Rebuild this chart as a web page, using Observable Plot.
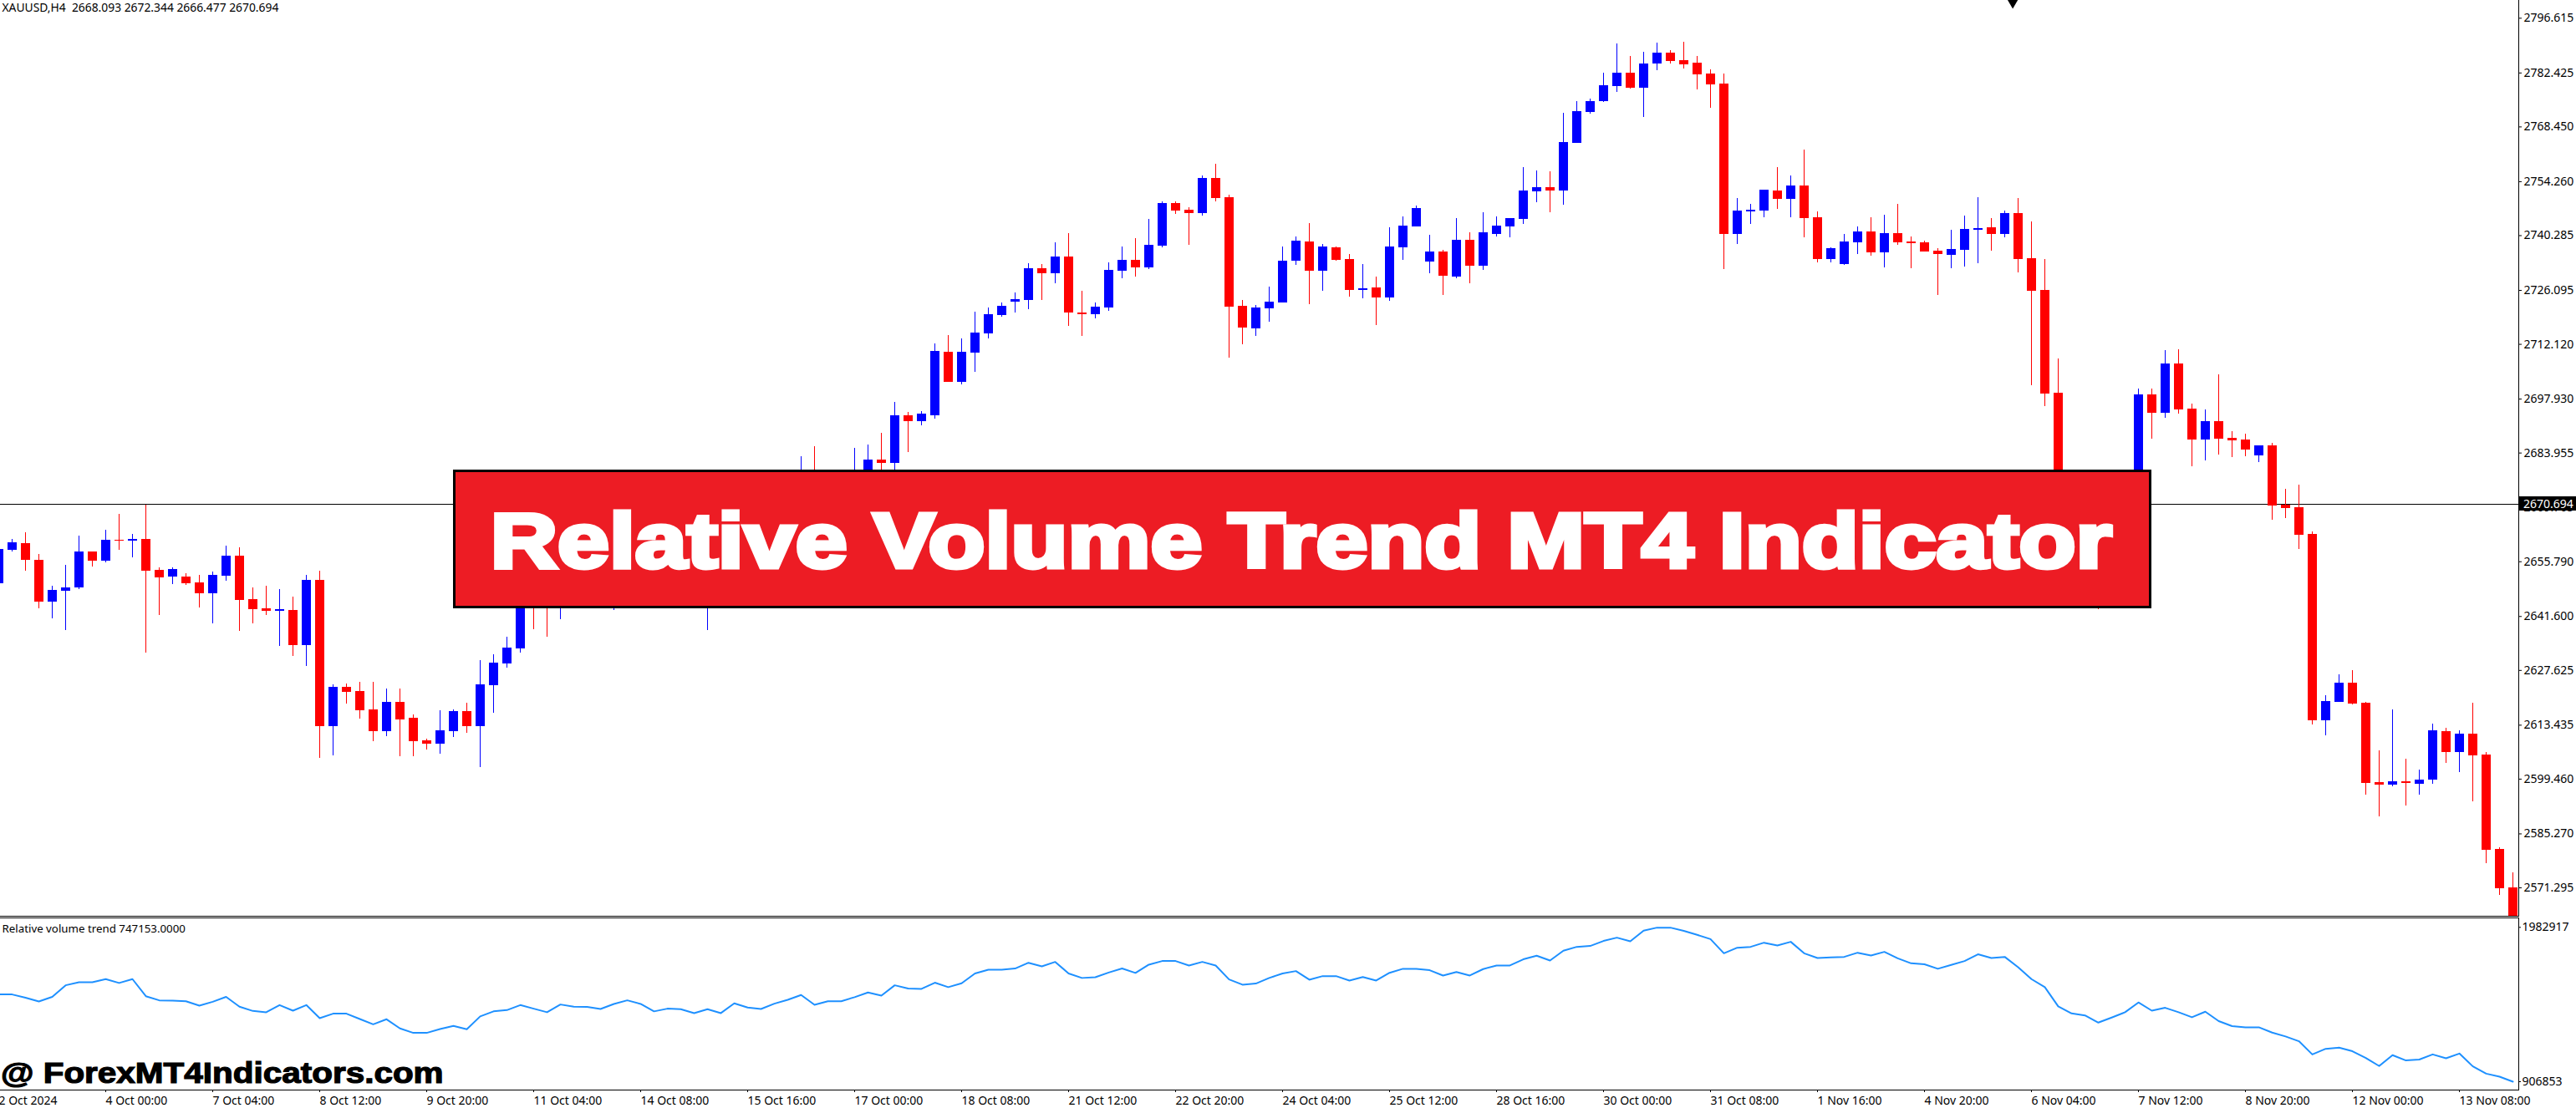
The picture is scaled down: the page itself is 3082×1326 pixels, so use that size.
<!DOCTYPE html>
<html><head><meta charset="utf-8">
<script src="https://cdn.jsdelivr.net/npm/d3@7"></script>
<script src="https://cdn.jsdelivr.net/npm/@observablehq/plot@0.6"></script>
<style>
html,body{margin:0;padding:0;background:#fff;overflow:hidden}
#wrap{position:relative;width:3082px;height:1326px;overflow:hidden;font-family:"Noto Sans",sans-serif}
#wrap svg{display:block}
#banner{position:absolute;left:542px;top:562px;width:2026px;height:160px;border:3px solid #000;background:#ED1C24;color:#fff;text-align:center}
#banner span{display:inline-block;font:bold 92px "Liberation Sans",Arial,sans-serif;-webkit-text-stroke:5px #fff;line-height:164px;white-space:pre;transform:translateX(-1px) scaleX(1.21);transform-origin:center}
#mark{position:absolute;left:1px;top:1264px;font:bold 35px/40px "Liberation Sans",Arial,sans-serif;color:#000;-webkit-text-stroke:1.2px #000;white-space:pre;transform:scaleX(1.156);transform-origin:left center}
#last{position:absolute;left:3014px;width:68px;height:17px;background:#000;color:#fff;font-size:14px;line-height:17px;padding-left:5px;box-sizing:border-box}
</style></head><body><div id="wrap"></div>
<script>
const opens=[2650.2,2658.8,2660.5,2656.2,2645.4,2648.2,2649.0,2658.3,2656.0,2661.4,
2661.2,2661.6,2653.6,2651.9,2651.9,2650.3,2647.5,2652.1,2657.3,2646.0,
2643.6,2643.0,2643.2,2634.1,2651.0,2613.1,2623.3,2622.2,2617.4,2611.8,
2619.4,2615.3,2609.4,2608.6,2611.8,2617.0,2613.1,2623.7,2629.3,2633.2,
2649.7,2646.4,2644.3,2651.8,2656.2,2654.0,2655.1,2660.5,2658.3,2662.7,
2659.4,2661.6,2657.2,2651.8,2658.3,2655.1,2660.5,2662.7,2659.4,2663.8,
2667.0,2671.3,2669.2,2672.4,2670.2,2674.6,2682.2,2681.3,2693.6,2692.1,
2693.6,2710.1,2702.3,2709.9,2714.9,2719.6,2723.1,2723.5,2731.7,2730.4,
2734.8,2720.3,2719.8,2721.6,2731.1,2733.9,2732.0,2737.6,2748.6,2746.9,
2746.0,2755.1,2750.1,2722.0,2716.1,2721.3,2722.9,2733.7,2738.7,2731.1,
2737.1,2734.1,2726.1,2726.7,2724.1,2737.1,2742.5,2733.4,2736.0,2729.5,
2739.1,2732.3,2740.6,2742.5,2744.5,2751.6,2752.7,2751.8,2764.2,2772.2,
2775.0,2778.9,2782.4,2778.5,2784.7,2787.6,2785.6,2785.0,2782.2,2779.6,
2740.6,2746.4,2746.6,2751.8,2749.7,2753.1,2744.9,2734.1,2732.8,2738.4,
2741.2,2735.8,2740.8,2738.6,2738.4,2736.2,2735.2,2736.5,2741.7,2742.3,
2740.6,2746.0,2734.3,2726.1,2699.4,2651.8,2648.6,2650.7,2647.5,2654.0,
2660.5,2699.0,2694.2,2707.0,2695.3,2687.3,2692.1,2687.8,2687.3,2683.2,
2685.8,2670.4,2669.8,2662.9,2614.6,2619.4,2624.4,2619.2,2598.6,2598.0,
2598.8,2598.2,2599.2,2611.8,2606.4,2611.1,2605.7,2581.3,2571.3];
const closes=[2659.0,2660.7,2656.2,2645.4,2648.4,2649.0,2658.3,2656.0,2661.4,2661.2,
2661.6,2653.4,2651.6,2653.8,2650.1,2647.5,2652.3,2657.3,2645.8,2643.4,
2643.0,2643.4,2634.1,2651.0,2613.1,2623.3,2622.0,2617.2,2611.8,2619.4,
2614.8,2609.2,2608.6,2612.0,2617.0,2613.1,2623.9,2629.6,2633.5,2649.7,
2646.4,2644.3,2651.8,2656.2,2654.0,2660.5,2660.5,2658.3,2662.7,2659.4,
2661.6,2657.2,2651.8,2658.3,2655.1,2660.5,2662.7,2659.4,2663.8,2667.0,
2671.3,2669.2,2672.4,2670.2,2674.6,2682.2,2681.3,2693.6,2692.1,2694.1,
2710.3,2702.3,2710.1,2715.1,2719.8,2722.0,2723.7,2731.7,2730.4,2734.8,
2720.3,2719.8,2721.8,2731.3,2733.9,2732.0,2737.8,2748.6,2746.7,2746.0,
2755.1,2749.9,2721.8,2716.4,2721.6,2723.1,2733.7,2738.9,2731.1,2737.4,
2733.9,2726.1,2726.5,2724.1,2737.3,2742.7,2747.3,2736.0,2729.8,2739.1,
2732.3,2741.0,2742.7,2744.7,2751.8,2752.7,2751.8,2764.4,2772.4,2775.0,
2779.1,2782.4,2778.5,2784.7,2787.6,2785.4,2784.5,2781.9,2779.3,2740.6,
2746.6,2746.9,2752.1,2749.7,2753.1,2744.7,2734.1,2736.9,2738.6,2741.2,
2735.8,2740.8,2738.4,2738.2,2736.0,2735.4,2736.7,2741.9,2742.1,2740.6,
2746.0,2734.1,2725.9,2699.2,2651.8,2648.6,2650.7,2647.5,2654.0,2660.5,
2699.0,2694.2,2707.0,2695.1,2687.3,2692.1,2687.5,2687.1,2684.7,2685.8,
2670.2,2669.6,2662.6,2614.6,2619.6,2624.4,2619.0,2598.4,2598.0,2598.8,
2598.4,2599.2,2612.0,2606.4,2611.1,2605.5,2581.1,2571.1,2560.0];
const highs=[2659.5,2661.6,2663.3,2657.7,2649.5,2654.9,2662.5,2658.3,2664.0,2668.1,
2662.9,2670.5,2654.2,2654.2,2652.7,2652.3,2653.2,2659.9,2659.4,2649.0,
2649.5,2648.6,2646.7,2652.3,2653.4,2623.9,2624.1,2624.6,2624.6,2622.8,
2622.8,2616.1,2609.9,2617.2,2617.4,2619.2,2630.2,2631.7,2636.3,2651.8,
2651.8,2648.6,2654.0,2659.4,2658.3,2662.7,2662.7,2664.8,2664.8,2664.4,
2663.8,2662.7,2658.3,2660.5,2660.5,2662.7,2664.8,2664.4,2665.3,2669.2,
2683.0,2685.6,2675.7,2674.6,2685.2,2686.1,2689.1,2697.1,2694.5,2694.7,
2712.2,2714.4,2713.5,2720.5,2721.6,2722.9,2725.5,2733.0,2732.8,2738.4,
2740.8,2725.9,2722.9,2733.2,2737.4,2739.5,2744.5,2749.1,2749.1,2747.5,
2755.8,2758.8,2750.8,2723.5,2722.2,2727.0,2737.4,2740.0,2743.4,2738.0,
2737.4,2735.4,2732.8,2729.5,2742.3,2745.1,2747.9,2740.4,2736.5,2744.7,
2741.0,2746.2,2745.1,2744.7,2757.9,2757.0,2756.8,2772.0,2775.0,2775.7,
2782.4,2789.9,2786.7,2787.8,2790.2,2788.2,2790.4,2786.7,2783.2,2782.2,
2749.9,2748.4,2752.1,2757.9,2755.7,2762.4,2746.4,2737.1,2740.6,2742.5,
2744.9,2745.6,2748.4,2739.9,2738.8,2736.9,2741.7,2745.4,2750.1,2744.7,
2746.6,2749.9,2743.8,2734.1,2708.3,2654.0,2651.8,2652.9,2656.2,2662.7,
2700.5,2700.5,2710.5,2710.7,2696.6,2695.1,2704.2,2689.5,2688.8,2685.8,
2686.5,2674.5,2675.6,2663.5,2621.1,2626.5,2627.6,2619.4,2606.8,2617.4,
2604.7,2601.9,2613.8,2612.7,2612.0,2619.2,2606.4,2581.7,2575.2];
const lows=[2649.8,2658.4,2653.4,2643.6,2641.0,2638.0,2648.6,2654.5,2655.5,2658.8,
2656.8,2632.2,2641.9,2649.9,2649.7,2643.8,2639.7,2650.8,2637.8,2639.7,
2641.9,2633.9,2631.3,2628.7,2604.9,2605.5,2618.9,2615.0,2609.2,2610.5,
2605.3,2605.3,2607.0,2606.0,2610.3,2611.4,2602.5,2616.6,2628.3,2632.2,
2638.2,2636.3,2640.8,2645.3,2646.4,2649.7,2643.2,2654.0,2656.2,2654.0,
2657.2,2654.0,2649.7,2638.0,2651.8,2652.9,2658.3,2657.2,2657.2,2661.6,
2665.9,2664.8,2667.0,2668.1,2669.2,2671.3,2673.5,2677.8,2684.1,2691.0,
2692.8,2702.3,2701.6,2704.9,2713.5,2719.2,2720.3,2721.1,2723.5,2727.8,
2716.8,2714.2,2718.7,2720.7,2729.1,2729.6,2731.5,2737.1,2745.8,2737.8,
2745.4,2749.1,2708.6,2712.0,2714.2,2717.9,2722.9,2732.6,2722.4,2725.9,
2733.7,2724.3,2723.9,2717.0,2723.3,2733.9,2742.5,2730.4,2724.8,2729.1,
2727.8,2731.3,2739.9,2739.7,2743.2,2748.8,2746.2,2748.2,2764.2,2771.8,
2774.8,2777.4,2778.3,2770.9,2783.0,2784.7,2783.4,2778.0,2773.3,2731.5,
2738.0,2743.2,2744.9,2747.1,2744.9,2739.7,2733.2,2733.2,2732.6,2735.4,
2735.0,2731.9,2737.8,2731.7,2736.0,2724.8,2731.7,2732.1,2733.0,2736.2,
2739.7,2730.6,2701.4,2696.0,2649.7,2646.4,2646.4,2643.4,2646.4,2651.8,
2658.3,2687.5,2692.9,2694.0,2680.4,2681.9,2683.4,2682.8,2683.0,2681.5,
2666.5,2667.0,2659.0,2613.6,2610.7,2619.4,2618.7,2595.4,2589.7,2597.5,
2592.5,2595.4,2598.2,2603.6,2601.2,2593.6,2577.6,2569.4,2557.0];
// Relative volume trend, thousands
const rvt=[1515,1515,1492,1466,1498,1579,1600,1600,1622,1595,
1622,1503,1474,1472,1468,1437,1464,1498,1430,1400,
1391,1441,1402,1441,1350,1381,1381,1344,1307,1342,
1278,1247,1247,1274,1296,1272,1362,1397,1406,1441,
1416,1391,1445,1430,1428,1414,1449,1474,1449,1397,
1416,1412,1385,1412,1385,1453,1424,1414,1451,1478,
1511,1443,1468,1468,1496,1529,1507,1579,1556,1554,
1597,1566,1593,1661,1688,1688,1696,1736,1711,1742,
1661,1630,1635,1668,1696,1665,1723,1748,1748,1717,
1742,1717,1620,1583,1591,1630,1661,1678,1618,1643,
1643,1612,1637,1612,1666,1694,1694,1684,1647,1672,
1647,1692,1717,1717,1760,1785,1752,1820,1847,1853,
1888,1911,1886,1960,1981,1981,1958,1931,1901,1802,
1841,1847,1876,1857,1882,1802,1769,1773,1777,1806,
1787,1812,1767,1732,1725,1694,1721,1748,1795,1769,
1777,1705,1622,1566,1432,1383,1369,1319,1354,1391,
1459,1402,1422,1391,1356,1395,1329,1294,1286,1286,
1249,1222,1189,1097,1136,1144,1119,1072,1016,1092,
1055,1061,1097,1070,1103,1014,963,942,907];
const priceTicks=[2796.615,2782.425,2768.450,2754.260,2740.285,2726.095,2712.120,2697.930,2683.955,2669.765,2655.790,2641.600,2627.625,2613.435,2599.460,2585.270,2571.295];
const lastPrice=2670.694;
const rvtTicks=[1982.917,906.853];
const timeLabels=["2 Oct 2024","4 Oct 00:00","7 Oct 04:00","8 Oct 12:00","9 Oct 20:00","11 Oct 04:00","14 Oct 08:00","15 Oct 16:00","17 Oct 00:00","18 Oct 08:00","21 Oct 12:00","22 Oct 20:00","24 Oct 04:00","25 Oct 12:00","28 Oct 16:00","30 Oct 00:00","31 Oct 08:00","1 Nov 16:00","4 Nov 20:00","6 Nov 04:00","7 Nov 12:00","8 Nov 20:00","12 Nov 00:00","13 Nov 08:00"];
const marker=[{i:150.6,p:2801.9}];
const headerText="XAUUSD,H4  2668.093 2672.344 2666.477 2670.694";
const indicatorText="Relative volume trend 747153.0000";
const watermark="@ ForexMT4Indicators.com";
const bannerText="Relative Volume Trend MT4 Indicator";

const UP="#0000FF",DOWN="#FF0000",LINE="#1E90FF";
const bars=opens.map((o,i)=>({i,open:o,close:closes[i],high:highs[i],low:lows[i],col:closes[i]>opens[i]?UP:DOWN}));
const xScale={domain:[0,188],range:[-2,3006]};
const font={fontFamily:"'Noto Sans',sans-serif",fontSize:"14px",background:"#fff",overflow:"hidden",color:"#000"};
const crisp={shapeRendering:"crispEdges"};

const main=Plot.plot({
  width:3082,height:1097,marginLeft:0,marginRight:69,marginTop:0,marginBottom:1,style:font,
  x:{...xScale,axis:null},
  y:{domain:[2796.615,2571.295],range:[21.3,1062],axis:null},
  color:{type:"identity"},
  marks:[
    Plot.ruleY([lastPrice],{y:d=>d,x1:0,x2:192.3,stroke:"#000",strokeWidth:1,...crisp}),
    Plot.ruleX(bars,{x:"i",y1:"low",y2:"high",stroke:"col",strokeWidth:1,...crisp}),
    Plot.ruleX(bars,{x:"i",y1:"open",y2:"close",stroke:"col",strokeWidth:11,...crisp}),
    Plot.dot(marker,{x:"i",y:"p",symbol:"diamond",r:8,fill:"#000"}),
    Plot.frame({anchor:"right",stroke:"#000",...crisp}),
    Plot.frame({anchor:"bottom",stroke:"#000",...crisp}),
    Plot.axisY({anchor:"right",ticks:priceTicks,tickFormat:d=>d.toFixed(3),tickSize:3,tickPadding:3,label:null}),
    Plot.text([headerText],{frameAnchor:"top-left",dx:2,dy:4,textAnchor:"start",fill:"#000",fontSize:13.85})
  ]
});
const sub=Plot.plot({
  width:3082,height:229,marginLeft:0,marginRight:69,marginTop:1,marginBottom:22,style:font,
  x:{...xScale,axis:null},
  y:{domain:[1982.917,906.853],range:[12.3,197],axis:null},
  marks:[
    Plot.line(rvt,{x:(d,i)=>i,y:d=>d,stroke:LINE,strokeWidth:2,curve:"linear"}),
    Plot.frame({anchor:"top",stroke:"#000",...crisp}),
    Plot.frame({anchor:"right",stroke:"#000",...crisp}),
    Plot.frame({anchor:"bottom",stroke:"#000",...crisp}),
    Plot.axisY({anchor:"right",ticks:rvtTicks,tickFormat:d=>String(Math.round(d*1000)),tickSize:2,tickPadding:2,label:null}),
    Plot.axisX({anchor:"bottom",ticks:timeLabels.map((_,k)=>k*8),tickFormat:d=>timeLabels[d/8],tickSize:3,tickPadding:5,textAnchor:"start",label:null}),
    Plot.text([indicatorText],{frameAnchor:"top-left",dx:2,dy:8,textAnchor:"start",fill:"#000",fontSize:13.3})
  ]
});
const wrap=document.getElementById("wrap");
wrap.append(main,sub);
const b=document.createElement("div");b.id="banner";
const s=document.createElement("span");s.textContent=bannerText;b.append(s);wrap.append(b);
const m=document.createElement("div");m.id="mark";m.textContent=watermark;wrap.append(m);
const l=document.createElement("div");l.id="last";l.textContent=lastPrice.toFixed(3);
l.style.top=(main.scale("y").apply(lastPrice)-8.5)+"px";wrap.append(l);
</script></body></html>
